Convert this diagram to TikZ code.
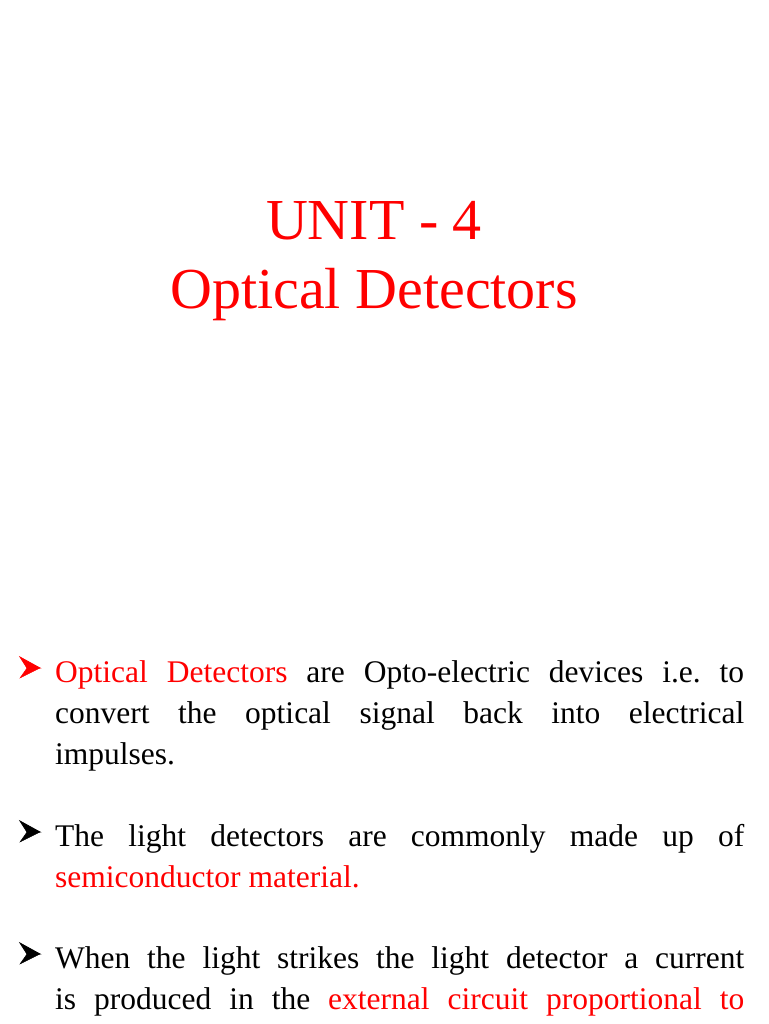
\documentclass[tikz,border=0pt]{standalone}
\usepackage{fontspec}
\setmainfont{Liberation Serif}
\definecolor{tred}{RGB}{255,0,0}
\begin{document}
\begin{tikzpicture}[x=1pt,y=-1pt,
  title/.style={font=\fontsize{58}{60}\selectfont,text=tred,anchor=base},
  line/.style={font=\frenchspacing\fontsize{31.5}{34}\selectfont,anchor=base west,inner sep=0pt},
  bul/.pic={
    \draw[pic actions,line width=0.8pt,line join=miter] (0,-11) -- (20,0) -- (7,0) -- cycle;
    \fill[pic actions] (0,10) -- (20,0) -- (7,0) -- cycle;
  }]
\useasboundingbox (0,0) rectangle (768,1024);
\fill[white] (0,0) rectangle (768,1024);
\node[title] (t1) at (374,240) {UNIT - 4};
\node[title] (t2) at (374,308) {Optical Detectors};
\pic[draw=tred,fill=tred] (b1) at (20,668) {bul};
\node[line] (l1) at (55,682) {\makebox[689pt][s]{\textcolor{tred}{Optical Detectors} are Opto-electric devices i.e. to}};
\node[line] (l2) at (55,723) {\makebox[689pt][s]{convert the optical signal back into electrical}};
\node[line] (l3) at (55,764) {impulses.};
\pic[draw=black,fill=black] (b2) at (20,832) {bul};
\node[line] (l4) at (55,846) {\makebox[689pt][s]{The light detectors are commonly made up of}};
\node[line] (l5) at (55,887) {\textcolor{tred}{semiconductor material.}};
\pic[draw=black,fill=black] (b3) at (20,954) {bul};
\node[line] (l6) at (55,968) {\makebox[689pt][s]{When the light strikes the light detector a current}};
\node[line] (l7) at (55,1009) {\makebox[689pt][s]{is produced in the \textcolor{tred}{external circuit proportional to}}};
\end{tikzpicture}
\end{document}
